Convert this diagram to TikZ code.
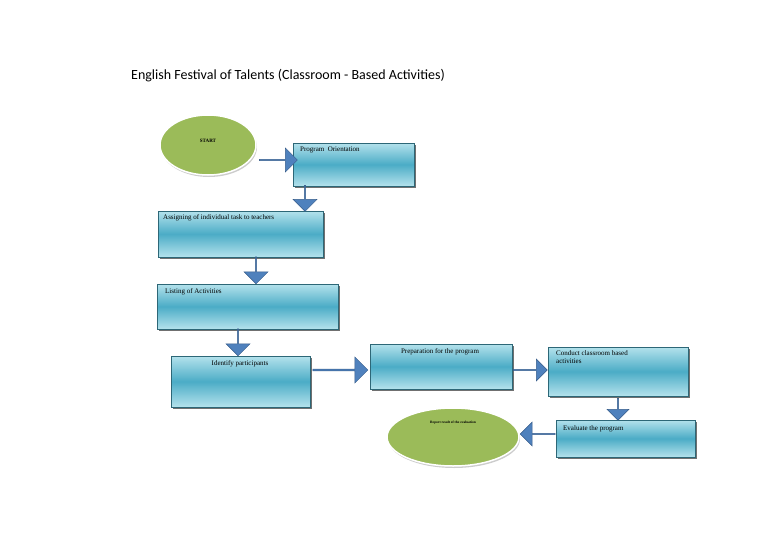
\documentclass[tikz,border=0pt]{standalone}
\usepackage{fontspec}
\setmainfont{Liberation Serif}
\newfontfamily\titlefont{Carlito}
\usetikzlibrary{shapes.arrows,shapes.geometric,shadows}
\definecolor{boxdark}{HTML}{4BACC6}
\definecolor{boxlight}{HTML}{B4E2EC}
\definecolor{arrowblue}{HTML}{4F81BD}
\definecolor{arrowedge}{HTML}{385D8A}
\definecolor{ovalgreen}{HTML}{9BBB59}
\begin{document}
\begin{tikzpicture}[x=1pt,y=-1pt,
  box/.style={draw=boxdark!60!black,line width=0.5pt,top color=boxlight,bottom color=boxlight,middle color=boxdark,
    drop shadow={shadow xshift=1.5pt,shadow yshift=-1.5pt,fill=black!70,opacity=0.8}},
  oval/.style={draw=white,line width=1.5pt,fill=ovalgreen,
    drop shadow={shadow xshift=1pt,shadow yshift=-2pt,fill=black!40,opacity=0.5}},
  barrow/.style={single arrow,draw=arrowedge,fill=arrowblue,line width=0.5pt,
    single arrow head extend=4pt,inner sep=0pt,minimum height=#1,minimum width=25pt,
    single arrow tip angle=90},
  lbl/.style={font=\fontsize{7}{8}\selectfont,anchor=north west,align=left,inner sep=0pt}]
\useasboundingbox (0,0) rectangle (768,543);
\node[anchor=base west,inner sep=0pt,font=\titlefont\fontsize{14}{16}\selectfont] (title) at (131,80) {English Festival of Talents (Classroom - Based Activities)};

\node[oval,ellipse,minimum width=96pt,minimum height=60pt] (start) at (208,145) {};
\node[font=\fontsize{5}{6}\selectfont\bfseries] (starttxt) at (208,141) {START};

\fill[box] (293,143) rectangle (414,186);
\node[lbl] (po) at (300,147) {Program\ \ Orientation};
\fill[box] (158,211) rectangle (323,257);
\node[lbl] (as) at (163,214) {Assigning of individual task to teachers};
\fill[box] (157,284) rectangle (338,329);
\node[lbl] (li) at (165,288) {Listing of Activities};
\fill[box] (171,356) rectangle (310,407);
\node[lbl,anchor=north] (id) at (240,360) {Identify participants};
\fill[box] (370,344) rectangle (512,389);
\node[lbl,anchor=north] (pr) at (440,348) {Preparation for the program};
\fill[box] (548,347) rectangle (688,396);
\node[lbl] (co) at (556,350) {Conduct classroom based\\activities};
\fill[box] (556,420) rectangle (695,457);
\node[lbl] (ev) at (563,425) {Evaluate the program};

\node[oval,ellipse,minimum width=132pt,minimum height=58pt] (rep) at (453,437) {};
\node[font=\fontsize{3.5}{4}\selectfont\bfseries] (reptxt) at (453,423) {Report result of the evaluation};

\node[barrow=38pt,minimum width=24pt] (a1) at (278,160) {};
\node[barrow=26pt,minimum width=24pt,shape border rotate=270] (a2) at (305,198) {};
\node[barrow=27pt,minimum width=24pt,shape border rotate=270] (a3) at (256,270) {};
\node[barrow=27pt,minimum width=24pt,shape border rotate=270] (a4) at (238,342) {};
\node[barrow=55pt,minimum width=26pt] (a5) at (340,370) {};
\node[barrow=34pt,minimum width=22pt] (a6) at (530,370) {};
\node[barrow=22pt,minimum width=22pt,shape border rotate=270] (a7) at (618,409) {};
\node[barrow=35pt,minimum width=24pt,shape border rotate=180] (a8) at (538,434) {};
\end{tikzpicture}
\end{document}
